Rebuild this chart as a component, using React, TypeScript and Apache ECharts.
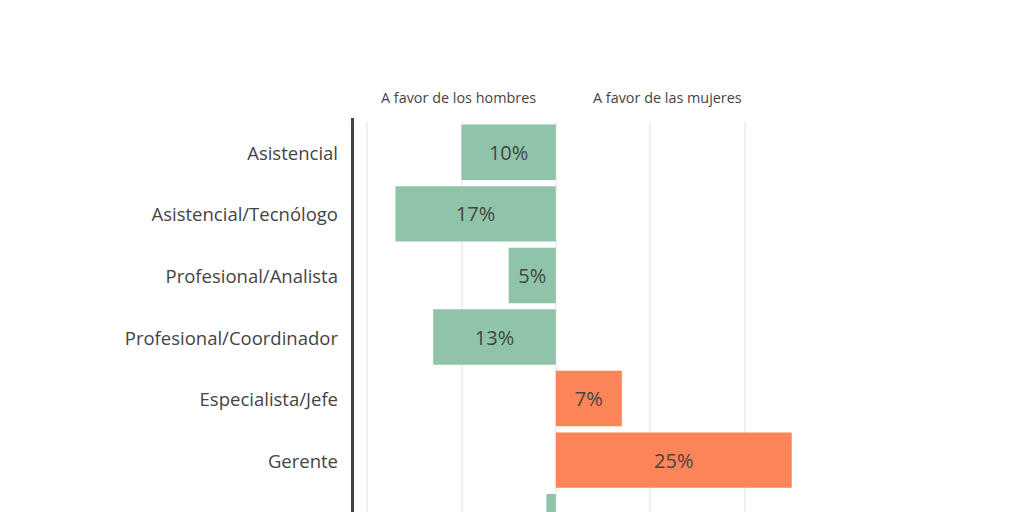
import React, { useEffect, useRef } from "react";
import * as echarts from "echarts";

const categories = [
  "Asistencial",
  "Asistencial/Tecnólogo",
  "Profesional/Analista",
  "Profesional/Coordinador",
  "Especialista/Jefe",
  "Gerente",
  "Directivo",
];
// negative = a favor de los hombres, positive = a favor de las mujeres
const gapValues = [-10, -17, -5, -13, 7, 25, -1];
const gridTicks = [-20, -10, 0, 10, 20];
const headerLabels = ["A favor de los hombres", "A favor de las mujeres"];
// rows whose texts fall below the visible page
const visibleRows = 6;

const GREEN = "#8fc4a9";
const ORANGE = "#fc8459";
const TEXT = "#444444";
const FONT = "'Open Sans', 'Noto Sans', sans-serif";

export default function App() {
  const ref = useRef<HTMLDivElement>(null);
  useEffect(() => {
    document.body.style.margin = "0";
    if (!ref.current) return;
    const chart = echarts.init(ref.current, undefined, { renderer: "svg" });
    chart.setOption({
      animation: false,
      textStyle: { fontFamily: FONT },
      grid: { left: 352, right: 204, top: 121.5, height: 431 },
      xAxis: {
        type: "value",
        min: -21.6,
        max: 28,
        show: false,
        splitLine: { show: false },
      },
      yAxis: {
        type: "category",
        data: categories,
        inverse: true,
        axisLine: { show: true, onZero: false, lineStyle: { color: TEXT, width: 3 } },
        axisTick: { show: false },
        axisLabel: {
          color: TEXT,
          fontSize: 18.5,
          margin: 14,
          fontFamily: FONT,
          interval: (i: number) => i < visibleRows,
        },
      },
      graphic: [
        {
          type: "rect",
          shape: { x: 351, y: 118, width: 3, height: 6 },
          style: { fill: TEXT },
        },
        {
          type: "text",
          left: 381,
          top: 90,
          style: { text: headerLabels[0], fontSize: 14.4, fill: TEXT, fontFamily: FONT },
        },
        {
          type: "text",
          left: 593,
          top: 90,
          style: { text: headerLabels[1], fontSize: 14.4, fill: TEXT, fontFamily: FONT },
        },
      ],
      series: [
        {
          type: "line",
          data: [],
          z: 1,
          silent: true,
          markLine: {
            z: 1,
            silent: true,
            symbol: "none",
            label: { show: false },
            lineStyle: { color: "#ebebeb", width: 1.5, type: "solid" },
            data: gridTicks.map((v) => ({ xAxis: v })),
          },
        },
        {
          type: "bar",
          z: 3,
          data: gapValues.map((v, i) => ({
            value: v,
            itemStyle: { color: v < 0 ? GREEN : ORANGE },
            label: { show: i < visibleRows },
          })),
          barCategoryGap: "10%",
          label: {
            show: true,
            position: "inside",
            color: TEXT,
            fontSize: 20,
            fontFamily: FONT,
            formatter: (p: any) => Math.abs(p.value) + "%",
          },
        },
      ],
    });
    return () => chart.dispose();
  }, []);
  return <div ref={ref} style={{ width: 1024, height: 620 }} />;
}
